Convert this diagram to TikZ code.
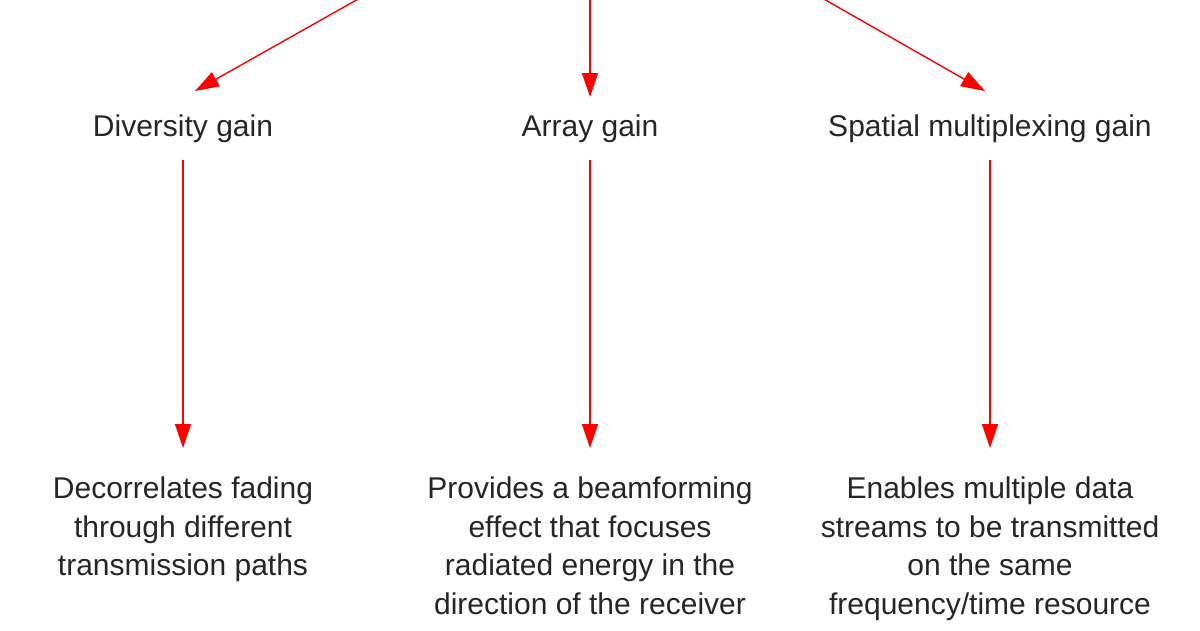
\documentclass[tikz,border=0pt]{standalone}
\usepackage{fontspec}
\setmainfont{Liberation Sans}
\usetikzlibrary{arrows.meta}
\begin{document}
\begin{tikzpicture}[x=1pt,y=-1pt,
  conn/.style={draw=red,line width=1.4pt,-{Triangle[length=24pt,width=16pt]}},
  lbl/.style={text=black!85,font=\fontsize{30}{38.5}\selectfont,align=center,inner sep=0pt}]
\useasboundingbox (0,0) rectangle (1200,630);
\coordinate (t1) at (360,-2);
\coordinate (t2) at (590,-2);
\coordinate (t3) at (822,-2);
\node[lbl] (g1) at (183,129) {Diversity gain};
\node[lbl] (g2) at (590,129) {Array gain};
\node[lbl] (g3) at (990,129) {Spatial multiplexing gain};
\coordinate (a1) at (195,91);
\coordinate (a2) at (590,97);
\coordinate (a3) at (985,91);
\draw[conn] (t1) -- (a1);
\draw[conn] (t2) -- (a2);
\draw[conn] (t3) -- (a3);
\coordinate (s1) at (183,160);
\coordinate (s2) at (590,160);
\coordinate (s3) at (990,160);
\coordinate (e1) at (183,448);
\coordinate (e2) at (590,448);
\coordinate (e3) at (990,448);
\draw[conn] (s1) -- (e1);
\draw[conn] (s2) -- (e2);
\draw[conn] (s3) -- (e3);
\node[lbl,anchor=north] (d1) at (183,477) {Decorrelates fading\\through different\\transmission paths};
\node[lbl,anchor=north] (d2) at (590,477) {Provides a beamforming\\effect that focuses\\radiated energy in the\\direction of the receiver};
\node[lbl,anchor=north] (d3) at (990,477) {Enables multiple data\\streams to be transmitted\\on the same\\frequency/time resource};
\end{tikzpicture}
\end{document}
